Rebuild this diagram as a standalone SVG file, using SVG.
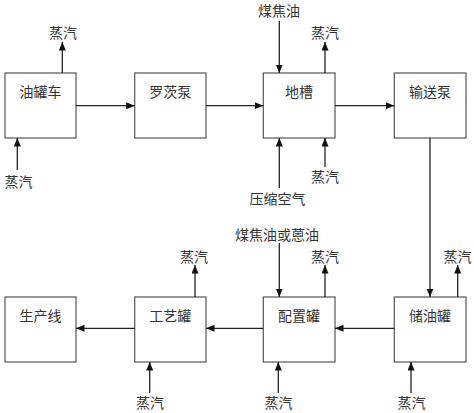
<svg xmlns="http://www.w3.org/2000/svg" width="474" height="413" viewBox="0 0 474 413">
<style>
.box{fill:#fff;stroke:#555;stroke-width:1.2}
.ln{fill:none;stroke:#222;stroke-width:1.3;marker-end:url(#ah)}
text{font-family:"Liberation Serif","Noto Sans CJK SC",serif;font-size:14px;fill:#333;text-anchor:middle}
</style>
<defs>
<marker id="ah" markerUnits="userSpaceOnUse" markerWidth="9" markerHeight="8" refX="8.5" refY="3.5" orient="auto">
<path d="M0,0 L8.5,3.5 L0,7 z" fill="#111"/>
</marker>
</defs>
<rect width="474" height="413" fill="#fff"/>
<g id="n1"><rect class="box" x="5" y="73" width="71" height="65"/><text x="40.5" y="97">油罐车</text></g>
<g id="n2"><rect class="box" x="134.7" y="73" width="71.3" height="65"/><text x="170.3" y="97">罗茨泵</text></g>
<g id="n3"><rect class="box" x="263.3" y="73" width="71.7" height="65"/><text x="299" y="97">地槽</text></g>
<g id="n4"><rect class="box" x="394.3" y="73" width="71.7" height="65"/><text x="430" y="97">输送泵</text></g>
<g id="n5"><rect class="box" x="5" y="297" width="71" height="65"/><text x="40.5" y="321">生产线</text></g>
<g id="n6"><rect class="box" x="134.7" y="297" width="71.3" height="65"/><text x="170.3" y="321">工艺罐</text></g>
<g id="n7"><rect class="box" x="263.3" y="297" width="71.7" height="65"/><text x="299" y="321">配置罐</text></g>
<g id="n8"><rect class="box" x="394.3" y="297" width="71.7" height="65"/><text x="430" y="321">储油罐</text></g>
<g id="labels">
<text x="63" y="38">蒸汽</text>
<text x="18.5" y="187">蒸汽</text>
<text x="279" y="16">煤焦油</text>
<text x="325" y="38">蒸汽</text>
<text x="325" y="182">蒸汽</text>
<text x="277.5" y="204">压缩空气</text>
<text x="277" y="240">煤焦油或蒽油</text>
<text x="325" y="262">蒸汽</text>
<text x="457.5" y="262">蒸汽</text>
<text x="194" y="262">蒸汽</text>
<text x="150" y="408">蒸汽</text>
<text x="278.5" y="408">蒸汽</text>
<text x="411.5" y="408">蒸汽</text>
</g>
<g id="connectors">
<line class="ln" x1="76" y1="105.7" x2="134.7" y2="105.7"/>
<line class="ln" x1="206" y1="105.7" x2="263.3" y2="105.7"/>
<line class="ln" x1="335" y1="105.7" x2="394.3" y2="105.7"/>
<line class="ln" x1="430" y1="138" x2="430" y2="297"/>
<line class="ln" x1="394.3" y1="328.3" x2="335" y2="328.3"/>
<line class="ln" x1="263.3" y1="328.3" x2="206" y2="328.3"/>
<line class="ln" x1="134.7" y1="328.3" x2="76" y2="328.3"/>
<line class="ln" x1="62.3" y1="73" x2="62.3" y2="42"/>
<line class="ln" x1="17.3" y1="170" x2="17.3" y2="138"/>
<line class="ln" x1="279.3" y1="21" x2="279.3" y2="73"/>
<line class="ln" x1="325" y1="73" x2="325" y2="42"/>
<line class="ln" x1="279.3" y1="188" x2="279.3" y2="138"/>
<line class="ln" x1="325" y1="167" x2="325" y2="138"/>
<line class="ln" x1="279.3" y1="243" x2="279.3" y2="297"/>
<line class="ln" x1="325" y1="297" x2="325" y2="265"/>
<line class="ln" x1="457.7" y1="297" x2="457.7" y2="265"/>
<line class="ln" x1="195" y1="297" x2="195" y2="265"/>
<line class="ln" x1="149.7" y1="393" x2="149.7" y2="362"/>
<line class="ln" x1="278.3" y1="393" x2="278.3" y2="362"/>
<line class="ln" x1="411" y1="393" x2="411" y2="362"/>
</g>
</svg>
